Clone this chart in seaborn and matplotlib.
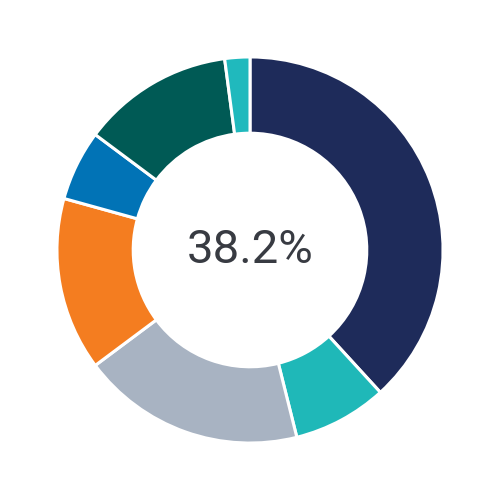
import matplotlib
matplotlib.use("Agg")
import matplotlib.pyplot as plt
import seaborn as sns

# segment shares (%), clockwise from 12 o'clock
labels = ["Navy", "Teal", "Grey", "Orange", "Blue", "Dark green", "Light teal"]
shares = [38.2, 7.9, 18.7, 14.5, 5.9, 12.7, 2.1]
colors = ["#1e2b5a", "#1fb8b8", "#a8b3c2", "#f47d20", "#0173b6", "#005a55", "#20b9bd"]
center_text = "38.2%"

sns.set_theme(style="white")
plt.rcParams['font.family'] = ['Roboto', 'DejaVu Sans']

fig, ax = plt.subplots(figsize=(5, 5), dpi=100)
ax.pie(shares, colors=colors, startangle=90, counterclock=False,
       radius=1.0,
       wedgeprops=dict(width=0.395, edgecolor="white", linewidth=2.2))
ax.text(0, 0, center_text, ha="center", va="center", fontsize=34, color="#383b42")
ax.set_aspect("equal")
ax.set_xlim(-1.295, 1.295)
ax.set_ylim(-1.295, 1.295)
ax.axis("off")
fig.subplots_adjust(left=0, right=1, top=1, bottom=0)
fig.savefig("out.png", dpi=100, facecolor="white")
